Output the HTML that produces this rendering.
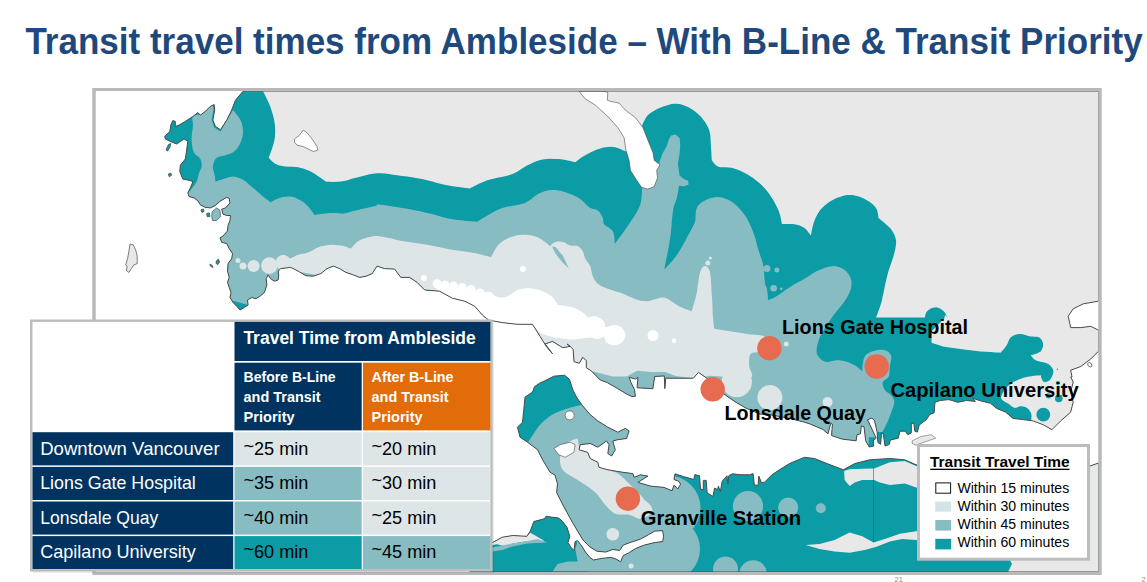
<!DOCTYPE html>
<html lang="en">
<head>
<meta charset="utf-8">
<title>Transit travel times from Ambleside – With B-Line &amp; Transit Priority</title>
<style>
  html, body { margin: 0; padding: 0; background: #ffffff; }
  body { width: 1147px; height: 582px; position: relative; overflow: hidden;
         font-family: "Liberation Sans", sans-serif; }
  svg text { font-family: "Liberation Sans", sans-serif; }
  .lbl { font-weight: bold; font-size: 20.5px; fill: #000; }
  .th1 { font-weight: bold; font-size: 17.9px; fill: #fff; }
  .th2 { font-weight: bold; font-size: 14.4px; fill: #fff; }
  .rowh { font-size: 17.8px; fill: #fff; }
  .cell { font-size: 17.8px; fill: #000; }
  .leg { font-size: 14.4px; fill: #000; }
</style>
</head>
<body>
<svg width="1147" height="582" viewBox="0 0 1147 582" style="position:absolute;left:0;top:0">
<defs>
<clipPath id="cns"><path d="M243.0,91.3 L235.5,100.1 L231.7,110.1 L226.7,120.1 L220.5,129.7 L215.4,126.4 L212.9,120.1 L214.7,110.1 L214.2,104.6 L210.4,106.3 L205.4,111.3 L200.4,115.1 L197.9,112.6 L192.9,116.4 L185.3,121.4 L179.1,125.1 L175.3,126.4 L175.3,121.4 L172.8,120.6 L170.8,125.1 L169.8,131.4 L164.8,136.4 L165.3,138.9 L170.3,141.4 L176.6,144.0 L184.1,138.9 L187.8,141.4 L186.6,150.2 L185.3,159.0 L180.3,165.3 L179.8,171.6 L182.8,179.1 L189.1,180.3 L192.9,181.6 L190.3,187.9 L187.8,192.9 L189.1,196.6 L194.1,197.9 L197.9,200.9 L200.4,204.9 L205.4,207.4 L210.4,207.9 L215.4,205.4 L220.5,200.9 L226.7,197.4 L229.2,198.4 L230.0,202.9 L225.5,207.9 L221.7,209.2 L223.0,214.2 L226.7,215.5 L230.5,215.5 L230.0,220.5 L228.0,225.5 L227.5,231.0 L223.0,236.0 L220.0,238.0 L221.7,242.3 L226.7,243.5 L229.2,248.6 L232.5,253.6 L231.7,258.6 L228.0,263.6 L227.5,271.1 L229.2,277.4 L227.5,282.4 L229.2,287.4 L231.0,292.5 L230.0,297.5 L233.0,302.5 L236.8,306.3 L240.0,310.0 L244.3,307.5 L248.1,305.0 L247.5,300.0 L251.8,297.5 L256.1,298.7 L260.6,295.7 L264.4,292.5 L266.9,284.9 L266.1,278.7 L268.1,274.9 L270.6,278.7 L274.4,281.2 L278.2,279.9 L278.7,274.9 L278.2,271.1 L280.7,268.6 L290.7,267.4 L298.2,271.1 L305.8,275.7 L313.3,276.2 L320.8,273.6 L327.1,268.6 L333.3,266.1 L339.6,268.6 L345.9,272.4 L353.4,274.9 L359.7,277.4 L366.0,276.2 L372.2,273.6 L377.0,266.1 L384.5,268.6 L394.6,269.1 L400.8,277.4 L409.6,277.4 L417.1,282.4 L424.7,290.0 L439.7,291.2 L452.3,298.2 L464.8,301.2 L474.8,306.3 L482.4,315.0 L488.6,320.1 L502.4,322.6 L517.5,324.3 L532.5,324.3 L540.1,336.4 L546.3,346.4 L552.6,353.9 L545.1,343.9 L552.6,341.4 L562.6,347.7 L570.2,346.4 L567.0,344.0 L570.5,346.7 L573.1,349.3 L574.0,361.6 L579.3,363.3 L582.8,357.2 L586.3,360.7 L586.3,367.7 L591.6,371.2 L600.3,380.0 L607.3,382.6 L617.8,388.7 L626.6,394.0 L631.9,396.6 L635.4,396.3 L634.5,389.6 L631.0,382.6 L629.2,377.3 L635.4,379.1 L638.0,377.3 L637.1,387.8 L652.9,388.7 L654.7,376.5 L664.3,375.9 L664.8,388.7 L665.7,378.2 L693.2,378.2 L698.5,372.4 L705.5,377.3 L723.9,394.0 L735.3,401.9 L745.8,408.0 L760.0,414.1 L769.4,414.6 L789.4,418.4 L804.5,422.2 L810.5,424.2 L822.8,429.4 L828.0,433.8 L830.7,423.3 L832.4,424.2 L831.6,435.6 L842.1,439.1 L856.1,440.8 L857.0,434.7 L860.5,433.8 L861.3,425.9 L864.0,426.8 L865.7,440.8 L869.2,447.0 L873.6,446.1 L873.6,440.0 L876.2,438.2 L870.1,425.1 L867.5,419.8 L871.9,418.0 L874.5,420.7 L877.1,432.1 L878.0,442.6 L880.6,444.3 L881.5,432.9 L883.3,433.8 L885.0,446.1 L889.4,444.3 L890.3,440.0 L898.2,438.2 L899.9,431.2 L905.2,431.2 L907.8,434.7 L911.3,432.9 L911.3,423.3 L913.9,423.3 L914.8,431.2 L917.4,432.1 L919.2,425.1 L926.2,419.8 L929.7,414.5 L934.1,412.8 L935.0,402.3 L940.2,400.5 L949.0,399.6 L957.8,402.3 L966.5,400.5 L975.3,401.4 L972.9,398.3 L980.4,400.8 L990.5,403.3 L996.7,408.4 L1005.5,412.1 L1013.0,418.4 L1023.1,419.6 L1033.1,420.9 L1043.1,424.7 L1051.9,429.7 L1060.7,420.9 L1070.7,412.1 L1073.2,402.1 L1070.7,392.1 L1073.2,382.0 L1070.7,377.0 L1072.0,377.0 L1070.7,370.2 L1080.8,366.5 L1090.8,358.9 L1098.3,351.4 L1098.5,351 L1098.5,330 L1098.3,330.1 L1090.8,326.3 L1080.8,327.6 L1070.7,327.6 L1068.2,316.3 L1073.2,308.8 L1083.3,303.8 L1098.3,301.2 L1098.5,301 L1098.5,91 L243,91Z"/></clipPath>
<clipPath id="cvan"><path d="M534.5,386.6 L540,383 L545.4,380.5 L553.8,376.2 L564.6,375.2 L569.4,379.3 L573,390.2 L577,398 L582.7,405.9 L590.2,414.6 L597.8,420.9 L607.8,427.2 L617.8,432.2 L625.4,428.4 L629.1,430.9 L626.6,438.5 L617.8,439.7 L612.8,441.0 L615.3,449.8 L611.6,456.0 L607.8,453.5 L609.1,444.7 L606.5,441.0 L597.8,447.2 L590.2,443.5 L580.2,444.7 L579.0,449.8 L587.7,452.3 L590.2,458.5 L597.8,462.3 L599.0,467.3 L607.8,469.8 L622.9,472.3 L632.9,473.6 L634.1,477.3 L640.4,474.8 L647.9,476.1 L637.9,482.4 L650.5,486.1 L664.0,487.4 L672.1,490.8 L674.0,485.1 L677.8,488.9 L680.6,484.2 L678.8,481.3 L674.0,479.5 L675.0,473.8 L683.5,476.6 L693.9,479.5 L694.8,474.7 L699.5,475.7 L700.5,488.9 L703.3,489.8 L703.3,480.4 L706.2,480.4 L707.1,492.7 L712.8,496.5 L714.7,488.0 L717.5,489.8 L718.4,486.1 L720.3,491.7 L722.2,481.3 L727.0,475.7 L727.9,484.2 L728.8,475.7 L732.6,473.8 L740.0,474.7 L749.3,474.8 L753.1,473.6 L754.3,484.9 L758.1,485.4 L758.8,476.1 L761.3,482.4 L764.3,482.4 L771.9,474.8 L779.4,469.8 L789.4,463.6 L804.5,457.3 L814.5,458.5 L827.1,463.6 L843.4,469.8 L854.7,463.6 L869.7,459.8 L889.8,458.5 L904.8,459.8 L916.1,464.8 L1000,464 L1090,466 L1098.5,463 L1098.5,572 L470,572 L472.5,545.1 L492.6,542.5 L502.3,537.2 L512.8,535.5 L526.8,536.3 L530.3,531.1 L533.8,521.5 L544.3,518.8 L546.1,516.2 L551.3,517.1 L558.4,517.9 L562.7,521.5 L567.1,527.6 L569.8,536.3 L568.0,542.5 L570.6,546.9 L574.1,550.4 L575.0,541.6 L577.6,540.7 L581.1,545.1 L585.5,552.1 L589.9,557.4 L593.4,560.0 L602.2,558.3 L610.9,557.4 L616.2,559.1 L620.6,561.8 L623.2,555.6 L628.5,553.0 L635.5,548.6 L644.3,545.1 L654.8,542.5 L662.7,541.6 L663.5,536.3 L662.7,530.7 L654.8,531.1 L648.6,534.6 L640.7,539.0 L630.2,542.5 L623.2,545.1 L619.7,550.4 L612.7,549.5 L605.7,552.1 L596.9,551.2 L589.9,546.9 L582.9,539.9 L577.6,531.1 L572.4,522.3 L567.1,512.7 L561.9,503.0 L556.6,492.5 L557.5,483.8 L554.9,475.0 L550.1,472.3 L542.6,459.8 L537.6,449.8 L527.5,442.2 L520.0,437.2 L517.5,427.2 L522.5,422.2 L523.8,409.6 L525.0,397.1 L532.5,392.1Z"/></clipPath>
<clipPath id="cframe"><rect x="95.5" y="91" width="1003" height="481"/></clipPath>
</defs>
<rect x="94" y="89.5" width="1006" height="484" fill="#ffffff" stroke="#b9b9b9" stroke-width="3"/>
<g clip-path="url(#cframe)">
<path d="M243.0,91.3 L235.5,100.1 L231.7,110.1 L226.7,120.1 L220.5,129.7 L215.4,126.4 L212.9,120.1 L214.7,110.1 L214.2,104.6 L210.4,106.3 L205.4,111.3 L200.4,115.1 L197.9,112.6 L192.9,116.4 L185.3,121.4 L179.1,125.1 L175.3,126.4 L175.3,121.4 L172.8,120.6 L170.8,125.1 L169.8,131.4 L164.8,136.4 L165.3,138.9 L170.3,141.4 L176.6,144.0 L184.1,138.9 L187.8,141.4 L186.6,150.2 L185.3,159.0 L180.3,165.3 L179.8,171.6 L182.8,179.1 L189.1,180.3 L192.9,181.6 L190.3,187.9 L187.8,192.9 L189.1,196.6 L194.1,197.9 L197.9,200.9 L200.4,204.9 L205.4,207.4 L210.4,207.9 L215.4,205.4 L220.5,200.9 L226.7,197.4 L229.2,198.4 L230.0,202.9 L225.5,207.9 L221.7,209.2 L223.0,214.2 L226.7,215.5 L230.5,215.5 L230.0,220.5 L228.0,225.5 L227.5,231.0 L223.0,236.0 L220.0,238.0 L221.7,242.3 L226.7,243.5 L229.2,248.6 L232.5,253.6 L231.7,258.6 L228.0,263.6 L227.5,271.1 L229.2,277.4 L227.5,282.4 L229.2,287.4 L231.0,292.5 L230.0,297.5 L233.0,302.5 L236.8,306.3 L240.0,310.0 L244.3,307.5 L248.1,305.0 L247.5,300.0 L251.8,297.5 L256.1,298.7 L260.6,295.7 L264.4,292.5 L266.9,284.9 L266.1,278.7 L268.1,274.9 L270.6,278.7 L274.4,281.2 L278.2,279.9 L278.7,274.9 L278.2,271.1 L280.7,268.6 L290.7,267.4 L298.2,271.1 L305.8,275.7 L313.3,276.2 L320.8,273.6 L327.1,268.6 L333.3,266.1 L339.6,268.6 L345.9,272.4 L353.4,274.9 L359.7,277.4 L366.0,276.2 L372.2,273.6 L377.0,266.1 L384.5,268.6 L394.6,269.1 L400.8,277.4 L409.6,277.4 L417.1,282.4 L424.7,290.0 L439.7,291.2 L452.3,298.2 L464.8,301.2 L474.8,306.3 L482.4,315.0 L488.6,320.1 L502.4,322.6 L517.5,324.3 L532.5,324.3 L540.1,336.4 L546.3,346.4 L552.6,353.9 L545.1,343.9 L552.6,341.4 L562.6,347.7 L570.2,346.4 L567.0,344.0 L570.5,346.7 L573.1,349.3 L574.0,361.6 L579.3,363.3 L582.8,357.2 L586.3,360.7 L586.3,367.7 L591.6,371.2 L600.3,380.0 L607.3,382.6 L617.8,388.7 L626.6,394.0 L631.9,396.6 L635.4,396.3 L634.5,389.6 L631.0,382.6 L629.2,377.3 L635.4,379.1 L638.0,377.3 L637.1,387.8 L652.9,388.7 L654.7,376.5 L664.3,375.9 L664.8,388.7 L665.7,378.2 L693.2,378.2 L698.5,372.4 L705.5,377.3 L723.9,394.0 L735.3,401.9 L745.8,408.0 L760.0,414.1 L769.4,414.6 L789.4,418.4 L804.5,422.2 L810.5,424.2 L822.8,429.4 L828.0,433.8 L830.7,423.3 L832.4,424.2 L831.6,435.6 L842.1,439.1 L856.1,440.8 L857.0,434.7 L860.5,433.8 L861.3,425.9 L864.0,426.8 L865.7,440.8 L869.2,447.0 L873.6,446.1 L873.6,440.0 L876.2,438.2 L870.1,425.1 L867.5,419.8 L871.9,418.0 L874.5,420.7 L877.1,432.1 L878.0,442.6 L880.6,444.3 L881.5,432.9 L883.3,433.8 L885.0,446.1 L889.4,444.3 L890.3,440.0 L898.2,438.2 L899.9,431.2 L905.2,431.2 L907.8,434.7 L911.3,432.9 L911.3,423.3 L913.9,423.3 L914.8,431.2 L917.4,432.1 L919.2,425.1 L926.2,419.8 L929.7,414.5 L934.1,412.8 L935.0,402.3 L940.2,400.5 L949.0,399.6 L957.8,402.3 L966.5,400.5 L975.3,401.4 L972.9,398.3 L980.4,400.8 L990.5,403.3 L996.7,408.4 L1005.5,412.1 L1013.0,418.4 L1023.1,419.6 L1033.1,420.9 L1043.1,424.7 L1051.9,429.7 L1060.7,420.9 L1070.7,412.1 L1073.2,402.1 L1070.7,392.1 L1073.2,382.0 L1070.7,377.0 L1072.0,377.0 L1070.7,370.2 L1080.8,366.5 L1090.8,358.9 L1098.3,351.4 L1098.5,351 L1098.5,330 L1098.3,330.1 L1090.8,326.3 L1080.8,327.6 L1070.7,327.6 L1068.2,316.3 L1073.2,308.8 L1083.3,303.8 L1098.3,301.2 L1098.5,301 L1098.5,91 L243,91Z" fill="#e8e8e8"/>
<g clip-path="url(#cns)">
<path d="M165.3,91.3 L263.1,91.3 L263.7,92.5 L265.2,95.4 L267.1,99.4 L269.1,103.7 L270.6,107.6 L271.7,111.0 L272.8,114.6 L273.7,118.1 L274.4,121.6 L274.9,125.1 L275.1,128.2 L275.2,131.2 L275.1,134.1 L274.9,137.1 L274.4,140.2 L273.4,144.2 L271.9,148.9 L270.4,153.2 L269.1,156.5 L268.6,157.8 L268.6,157.8 L269.1,158.3 L270.3,159.6 L272.0,161.2 L273.8,162.8 L275.6,164.0 L277.4,164.8 L279.4,165.4 L281.4,165.8 L283.6,166.2 L285.7,166.5 L288.1,166.7 L290.6,166.8 L293.1,166.8 L295.7,167.0 L298.2,167.3 L300.7,167.9 L303.2,168.6 L305.8,169.4 L308.3,170.4 L310.8,171.6 L314.3,173.6 L318.2,176.2 L321.9,178.8 L324.7,180.8 L325.8,181.6 L325.8,181.6 L326.9,181.7 L329.7,181.8 L333.4,181.9 L337.4,181.8 L340.9,181.6 L343.9,181.1 L346.8,180.4 L349.7,179.5 L352.7,178.6 L355.9,177.8 L359.9,176.8 L364.1,175.7 L368.4,174.6 L372.7,173.8 L377.0,173.3 L381.0,173.3 L385.0,173.6 L388.9,174.1 L392.9,174.7 L397.1,175.3 L402.0,175.9 L407.0,176.6 L412.0,177.3 L417.2,178.2 L422.2,179.1 L427.2,180.2 L432.3,181.6 L437.3,182.9 L442.3,184.2 L447.2,185.3 L452.5,186.2 L458.5,187.0 L464.0,187.7 L468.2,188.2 L469.8,188.4 L469.8,188.4 L471.0,187.8 L474.1,186.2 L478.4,184.1 L483.1,182.0 L487.4,180.3 L492.2,178.9 L497.4,177.8 L502.8,176.8 L507.9,175.6 L512.5,174.1 L515.8,172.5 L518.8,170.7 L521.7,168.8 L524.5,166.9 L527.5,165.3 L530.4,163.9 L533.4,162.5 L536.3,161.3 L539.4,160.3 L542.6,159.5 L546.5,159.0 L550.6,158.8 L554.8,158.9 L558.9,159.1 L562.6,159.5 L565.7,160.0 L569.1,160.7 L572.1,161.5 L574.3,162.1 L575.2,162.3 L575.2,162.3 L575.9,161.8 L577.6,160.4 L580.0,158.6 L582.6,156.8 L585.2,155.2 L588.4,153.5 L591.9,151.7 L595.7,150.1 L599.3,148.7 L602.8,147.7 L605.4,147.2 L608.0,146.9 L610.5,146.8 L612.9,146.9 L615.3,147.2 L617.7,147.9 L620.4,149.0 L622.9,150.2 L624.7,151.1 L625.4,151.5 L641.7,126.4 L642.0,125.5 L643.0,123.3 L644.4,120.4 L646.0,117.5 L647.9,115.1 L650.5,112.9 L653.7,110.9 L657.2,109.1 L660.7,107.6 L664.0,106.3 L666.6,105.4 L669.1,104.7 L671.5,104.1 L674.0,103.8 L676.5,103.8 L679.0,104.1 L681.6,104.6 L684.2,105.4 L686.7,106.4 L689.1,107.6 L691.8,109.2 L694.4,111.0 L697.0,113.1 L699.4,115.3 L701.6,117.6 L703.5,119.9 L705.2,122.3 L706.8,124.9 L708.1,127.5 L709.2,130.2 L709.9,133.1 L710.4,136.0 L710.6,139.1 L710.7,142.2 L710.9,145.2 L711.1,148.7 L711.4,152.7 L711.5,156.4 L711.7,159.2 L711.7,160.3 L711.7,160.3 L712.1,160.8 L713.1,162.1 L714.5,163.8 L716.2,165.4 L717.9,166.5 L720.2,167.2 L722.9,167.3 L725.9,167.3 L728.8,167.4 L731.7,167.8 L734.7,168.7 L737.8,169.8 L740.8,171.0 L743.8,172.5 L746.8,174.1 L749.9,176.0 L753.1,178.1 L756.2,180.4 L759.1,182.8 L761.8,185.3 L764.1,187.7 L766.2,190.1 L768.2,192.6 L770.1,195.2 L771.9,197.9 L773.7,200.8 L775.3,203.8 L776.9,206.9 L778.3,210.0 L779.4,212.9 L780.2,215.6 L780.9,218.6 L781.4,221.3 L781.8,223.4 L781.9,224.2 L781.9,224.2 L782.9,224.1 L785.2,224.0 L788.4,223.9 L791.7,223.9 L794.5,224.2 L796.7,224.7 L798.8,225.3 L800.8,226.0 L802.7,226.9 L804.5,228.0 L806.2,229.5 L807.8,231.4 L809.3,233.4 L810.4,234.9 L810.8,235.5 L810.8,235.5 L811.0,234.4 L811.6,231.5 L812.4,227.8 L813.4,223.8 L814.5,220.5 L815.7,217.8 L817.0,215.1 L818.5,212.6 L820.2,210.1 L822.1,207.9 L824.3,205.8 L826.6,203.9 L829.2,202.1 L831.9,200.5 L834.6,199.1 L837.4,197.8 L840.4,196.7 L843.5,195.8 L846.6,195.1 L849.6,194.9 L852.7,195.1 L855.8,195.7 L858.9,196.6 L861.9,197.8 L864.7,199.1 L867.3,200.5 L869.9,202.1 L872.3,203.9 L874.4,205.9 L876.0,207.9 L877.0,210.1 L877.7,212.7 L878.2,215.3 L878.4,217.2 L878.5,218.0 L878.5,218.0 L879.2,218.6 L880.9,220.0 L883.1,221.8 L885.4,223.8 L887.3,225.5 L888.4,226.6 L889.5,227.6 L890.5,228.6 L891.4,229.7 L892.3,231.0 L893.3,232.7 L894.3,234.6 L895.1,236.7 L895.7,238.8 L896.1,241.0 L896.1,243.8 L895.7,246.8 L895.1,249.9 L894.3,253.0 L893.5,256.1 L892.6,259.1 L891.6,262.1 L890.5,265.1 L889.5,268.1 L888.5,271.1 L887.7,274.1 L886.9,277.1 L886.2,280.1 L885.5,283.1 L884.8,286.2 L884.1,289.7 L883.4,293.3 L882.6,296.9 L881.9,300.4 L881.0,303.8 L879.9,307.1 L878.6,310.8 L877.4,314.1 L876.4,316.6 L876.0,317.6 L924.9,317.6 L924.9,317.2 L925.1,316.2 L925.3,314.9 L925.7,313.6 L926.2,312.5 L926.9,311.5 L927.9,310.5 L928.9,309.7 L930.1,308.9 L931.2,308.3 L932.4,307.9 L933.6,307.5 L934.9,307.4 L936.2,307.3 L937.5,307.5 L938.8,307.9 L940.1,308.6 L941.4,309.4 L942.6,310.3 L943.7,311.3 L944.7,312.6 L945.8,314.2 L946.6,315.9 L947.3,317.1 L947.5,317.6 L945.3,315.0 L944.0,318.8 L931.5,331.3 L931.5,342.6 L931.5,342.6 L932.3,342.9 L934.3,343.7 L937.0,344.6 L940.0,345.6 L942.8,346.4 L946.0,347.1 L949.4,347.6 L953.0,348.0 L956.7,348.4 L960.3,348.9 L964.2,349.4 L968.2,350.0 L972.3,350.5 L976.4,351.0 L980.4,351.4 L985.1,351.8 L990.4,352.1 L995.3,352.4 L999.0,352.6 L1000.5,352.7 L1000.5,352.7 L1001.0,352.2 L1002.2,350.8 L1003.9,348.9 L1005.5,346.9 L1006.8,345.1 L1007.6,343.6 L1008.2,341.9 L1008.8,340.3 L1009.5,338.9 L1010.5,337.6 L1011.9,336.5 L1013.6,335.5 L1015.4,334.8 L1017.4,334.2 L1019.3,333.9 L1021.5,334.0 L1023.8,334.5 L1026.1,335.2 L1028.4,335.9 L1030.6,336.4 L1032.5,336.6 L1034.4,336.7 L1036.3,336.7 L1038.0,337.0 L1039.4,337.6 L1040.5,338.5 L1041.5,339.7 L1042.2,341.1 L1042.8,342.5 L1043.1,343.9 L1043.1,345.4 L1042.8,347.0 L1042.3,348.6 L1041.6,350.1 L1040.6,351.4 L1038.8,352.6 L1036.2,353.7 L1033.5,354.5 L1031.5,355.0 L1030.6,355.2 L1030.6,355.2 L1030.9,355.6 L1031.7,356.6 L1032.9,357.9 L1034.2,359.2 L1035.6,360.2 L1037.8,361.1 L1040.5,361.7 L1043.3,362.3 L1046.0,363.0 L1048.2,364.0 L1049.6,365.1 L1050.8,366.3 L1051.9,367.6 L1052.7,368.9 L1053.2,370.2 L1053.4,371.1 L1053.4,371.9 L1053.3,372.7 L1053.1,373.5 L1052.8,374.4 L1052.4,375.6 L1051.8,377.0 L1051.0,378.3 L1050.2,379.5 L1049.3,380.4 L1048.4,381.0 L1047.3,381.6 L1046.2,382.0 L1045.1,382.2 L1044.2,382.1 L1043.5,381.7 L1042.9,381.1 L1042.4,380.3 L1042.0,379.5 L1041.6,378.7 L1041.3,377.9 L1041.1,377.0 L1040.9,376.1 L1040.8,375.5 L1040.8,375.2 L1040.8,375.2 L1040.2,375.3 L1038.6,375.4 L1036.5,375.6 L1034.2,375.8 L1032.2,376.1 L1030.5,376.4 L1028.7,376.6 L1027.0,377.0 L1025.3,377.3 L1023.6,377.8 L1021.8,378.4 L1020.0,379.0 L1018.2,379.7 L1016.6,380.4 L1015.0,381.2 L1013.8,381.8 L1012.8,382.5 L1011.8,383.2 L1010.8,383.9 L1009.8,384.7 L1008.7,385.6 L1007.6,386.5 L1006.6,387.5 L1005.6,388.6 L1004.7,389.8 L1003.7,391.4 L1002.6,393.2 L1001.7,395.1 L1001.2,396.8 L1001.2,398.4 L1001.9,399.6 L1003.2,400.7 L1004.8,401.7 L1006.5,402.7 L1008.1,403.6 L1009.5,404.6 L1010.9,405.7 L1012.3,406.7 L1013.7,407.5 L1015.0,407.9 L1016.0,407.8 L1017.0,407.4 L1018.0,406.9 L1019.0,406.4 L1020.1,406.2 L1021.5,406.2 L1022.9,406.4 L1024.4,406.7 L1025.8,407.2 L1027.0,407.9 L1028.1,408.8 L1029.1,409.9 L1030.0,411.2 L1030.8,412.5 L1031.3,413.9 L1031.5,415.8 L1031.4,418.0 L1031.2,420.2 L1030.9,421.8 L1030.8,422.5 L1011.5,450.0 L908.5,450.0 L150,480 L150,91Z" fill="#0b9ca5"/>
<circle cx="1043.3" cy="414.7" r="6.9" fill="#0b9ca5"/><circle cx="1058.8" cy="398.4" r="3.8" fill="#0b9ca5"/><circle cx="1048.5" cy="395.8" r="2.6" fill="#0b9ca5"/><circle cx="1057.9" cy="383.0" r="2.1" fill="#0b9ca5"/><circle cx="1057.4" cy="369.2" r="0.7" fill="#0b9ca5"/>
<path d="M200.4,114.6 L199.7,114.6 L198.1,114.8 L196.1,115.1 L194.2,115.6 L192.9,116.4 L192.4,117.7 L192.3,119.3 L192.6,121.1 L192.8,123.1 L192.9,125.1 L192.7,127.9 L192.3,130.9 L191.9,134.1 L191.6,137.2 L191.6,140.2 L191.8,142.9 L192.1,145.6 L192.5,148.2 L193.2,150.6 L194.1,152.7 L195.2,154.2 L196.6,155.4 L198.1,156.5 L199.4,157.7 L200.4,159.0 L201.0,160.4 L201.4,161.9 L201.6,163.5 L201.7,165.0 L201.6,166.5 L201.3,167.8 L200.8,169.0 L200.2,170.2 L199.6,171.5 L199.1,172.8 L198.6,174.5 L198.2,176.2 L197.8,178.1 L197.3,179.9 L196.6,181.6 L195.6,183.5 L194.3,185.3 L193.0,187.1 L191.6,188.8 L190.3,190.4 L189.1,191.7 L187.8,193.0 L186.6,194.2 L185.7,195.1 L185.3,195.4 L190.3,298.7 L233.0,300.7 L248.1,305.0 L265.6,306.3 L378,306 L378.0,205.4 L378.0,205.4 L376.3,205.8 L372.0,206.7 L366.4,208.0 L360.6,209.3 L355.9,210.4 L353.2,211.1 L350.7,211.8 L348.2,212.5 L345.9,213.0 L343.4,213.4 L340.9,213.5 L338.5,213.3 L336.0,213.1 L333.4,212.9 L330.8,212.9 L327.2,213.2 L322.9,213.7 L318.8,214.3 L315.7,214.8 L314.5,215.0 L314.5,215.0 L314.1,214.4 L313.0,212.8 L311.5,210.7 L309.8,208.5 L308.3,206.7 L306.9,205.3 L305.5,203.9 L304.0,202.6 L302.4,201.5 L300.7,200.4 L298.9,199.4 L296.9,198.4 L294.9,197.6 L292.8,197.0 L290.7,196.6 L288.3,196.5 L285.6,196.7 L283.0,197.1 L280.5,197.7 L278.2,198.4 L276.3,199.2 L274.3,200.2 L272.4,201.3 L271.1,202.1 L270.6,202.4 L270.6,202.4 L270.1,202.0 L268.7,201.0 L266.9,199.6 L264.9,198.0 L263.1,196.6 L261.2,195.0 L259.2,193.2 L257.2,191.4 L255.1,189.6 L253.1,187.9 L251.1,186.2 L249.1,184.4 L247.1,182.7 L245.1,181.1 L243.0,179.8 L241.1,178.8 L239.1,178.0 L237.0,177.3 L235.0,176.8 L233.0,176.6 L231.0,176.7 L228.9,177.2 L226.9,177.8 L224.9,178.5 L223.0,179.1 L221.2,179.7 L219.2,180.3 L217.3,180.9 L215.9,181.4 L215.4,181.6 L215.4,181.6 L215.4,181.2 L215.3,180.0 L215.1,178.5 L214.9,176.8 L214.7,175.3 L214.3,173.6 L213.8,171.9 L213.3,170.1 L212.9,168.3 L212.9,166.5 L213.2,164.6 L213.8,162.7 L214.5,160.8 L215.5,159.1 L216.7,157.8 L218.1,156.9 L219.9,156.4 L221.8,156.0 L223.7,155.7 L225.5,155.2 L227.3,154.6 L229.2,154.0 L231.0,153.4 L232.7,152.5 L234.3,151.5 L235.8,150.1 L237.2,148.4 L238.4,146.6 L239.5,144.7 L240.5,142.7 L241.3,140.6 L242.0,138.3 L242.6,136.0 L242.9,133.7 L243.0,131.4 L242.9,129.1 L242.6,126.8 L242.1,124.5 L241.4,122.3 L240.5,120.1 L239.1,117.7 L237.1,115.0 L235.2,112.6 L233.6,110.8 L233.0,110.1 L225.5,122.6 L220.5,131.4 L214.2,127.6 L211.7,120.1 L213.4,110.1 L212.9,103.8Z" fill="#87bcc3"/>
<path d="M377.0,204.2 L378.8,204.4 L383.5,205.1 L389.7,206.0 L396.3,207.0 L402.1,207.9 L407.1,208.8 L412.2,209.7 L417.2,210.7 L422.2,211.8 L427.2,212.9 L432.2,214.1 L437.2,215.5 L442.2,216.9 L447.3,218.2 L452.3,219.2 L458.1,220.0 L464.7,220.7 L470.9,221.2 L475.5,221.6 L477.3,221.7 L477.3,221.7 L478.0,221.2 L479.8,220.1 L482.2,218.6 L484.9,216.9 L487.4,215.5 L490.1,213.9 L493.0,212.3 L496.0,210.7 L499.1,209.2 L502.4,207.9 L506.7,206.7 L511.3,205.9 L516.1,205.2 L520.8,204.3 L525.0,202.9 L528.3,201.1 L531.4,198.9 L534.3,196.6 L537.2,194.5 L540.1,192.9 L542.6,191.9 L545.1,191.1 L547.5,190.5 L550.0,190.1 L552.6,189.9 L555.6,190.0 L558.6,190.5 L561.7,191.1 L564.8,192.0 L567.7,192.9 L570.4,193.9 L572.9,195.0 L575.5,196.3 L577.9,197.6 L580.2,199.1 L582.3,200.8 L584.4,202.7 L586.3,204.7 L588.2,206.5 L590.2,207.9 L591.8,208.6 L593.4,209.0 L595.0,209.3 L596.5,209.7 L597.8,210.4 L599.1,211.6 L600.2,213.1 L601.2,214.7 L602.1,216.4 L602.8,218.0 L603.1,219.3 L603.3,220.5 L603.3,221.8 L603.5,223.0 L604.0,224.2 L605.3,225.6 L607.3,226.8 L609.4,228.0 L611.3,229.4 L612.8,231.0 L613.7,233.6 L614.3,237.0 L614.6,240.3 L614.7,242.9 L614.7,243.9 L614.7,243.9 L615.7,242.6 L618.3,239.1 L621.8,234.5 L625.3,229.6 L628.4,225.1 L631.1,221.1 L633.8,217.0 L636.4,212.8 L638.6,208.7 L640.3,204.6 L641.2,200.6 L641.7,196.1 L641.9,191.9 L642.0,188.7 L642.0,187.5 L659.1,163.6 L662.5,153.4 L666.6,146.5 L668.7,139.7 L671.1,135.6 L675.5,134.6 L679.6,138.0 L680.3,144.8 L679.6,153.4 L677.9,163.6 L679.6,175.6 L683.7,179.0 L688.2,180.7 L688.5,184.8 L683.7,186.2 L678.9,185.8 L678.9,185.8 L678.8,186.7 L678.5,188.9 L678.0,191.9 L677.5,195.1 L676.9,197.8 L676.3,199.8 L675.6,201.7 L674.9,203.5 L674.1,205.6 L673.5,208.0 L672.7,213.1 L672.0,219.1 L671.5,225.7 L670.9,232.4 L670.1,238.8 L668.9,246.0 L667.4,254.1 L665.8,261.7 L664.7,267.4 L664.2,269.6 L664.2,269.6 L665.1,268.7 L667.3,266.3 L670.3,263.1 L673.5,259.4 L676.2,255.9 L679.1,251.5 L682.1,246.4 L685.0,241.2 L687.6,236.3 L689.9,232.0 L691.2,229.7 L692.3,227.7 L693.3,225.8 L694.2,223.8 L695.0,221.7 L695.5,219.0 L695.6,216.1 L695.7,213.2 L696.0,210.4 L696.7,208.0 L697.7,206.3 L698.9,204.8 L700.3,203.5 L701.8,202.3 L703.5,201.2 L705.9,200.0 L708.6,198.8 L711.4,197.9 L714.4,197.3 L717.2,197.1 L720.0,197.3 L722.8,197.8 L725.5,198.7 L728.3,199.8 L730.9,201.2 L733.9,203.3 L736.8,205.8 L739.6,208.7 L742.2,211.8 L744.6,214.9 L746.7,218.1 L748.5,221.5 L750.2,224.9 L751.7,228.5 L753.1,232.0 L754.3,235.4 L755.4,238.8 L756.3,242.2 L757.2,245.7 L758.2,249.1 L759.3,252.5 L760.4,255.9 L761.6,259.2 L762.6,262.7 L763.4,266.1 L763.9,269.8 L764.2,273.7 L764.4,277.6 L764.7,281.1 L765.1,283.9 L765.4,285.0 L765.8,285.9 L766.2,286.8 L766.6,287.6 L766.9,288.7 L767.3,291.0 L767.6,293.9 L767.9,296.9 L768.0,299.1 L768.1,300.0 L768.1,300.0 L768.5,299.9 L769.6,299.5 L771.1,298.9 L772.8,298.3 L774.4,297.5 L777.0,295.9 L780.0,293.9 L783.1,291.7 L786.3,289.5 L789.4,287.4 L792.4,285.6 L795.4,283.8 L798.4,282.1 L801.5,280.4 L804.5,278.7 L807.5,276.9 L810.5,275.0 L813.4,273.1 L816.4,271.3 L819.5,269.9 L822.5,268.7 L825.6,267.6 L828.8,266.7 L831.8,266.2 L834.6,266.1 L836.8,266.4 L838.9,266.9 L841.0,267.7 L842.9,268.7 L844.6,269.9 L846.2,271.3 L847.7,273.0 L849.0,274.8 L850.1,276.8 L850.9,278.7 L851.4,280.6 L851.6,282.6 L851.5,284.6 L851.3,286.6 L850.9,288.7 L850.1,291.2 L849.0,293.7 L847.7,296.2 L846.2,298.7 L844.6,301.2 L842.8,303.7 L840.8,306.2 L838.7,308.7 L836.6,311.2 L834.6,313.8 L832.5,316.7 L830.4,319.7 L828.4,322.8 L826.4,325.8 L824.6,328.8 L823.1,331.3 L821.7,333.9 L820.3,336.3 L819.2,338.8 L818.3,341.4 L817.6,343.9 L817.0,346.6 L816.6,349.2 L816.6,351.7 L817.0,353.9 L817.9,355.8 L819.2,357.6 L820.8,359.2 L822.6,360.6 L824.6,361.5 L827.2,361.9 L830.1,361.5 L833.3,360.8 L836.5,360.2 L839.6,360.2 L842.7,360.7 L846.0,361.6 L849.1,362.6 L852.1,363.9 L854.7,365.2 L856.7,366.5 L858.7,368.2 L860.5,369.8 L861.7,371.0 L862.2,371.5 L862.2,371.5 L862.3,370.2 L862.4,367.2 L862.9,363.2 L863.6,359.3 L864.7,356.4 L865.8,355.0 L867.2,353.8 L868.8,352.9 L870.4,352.1 L872.2,351.4 L874.5,350.7 L877.2,350.1 L880.0,349.8 L882.6,349.8 L884.8,350.2 L886.4,350.8 L887.8,351.6 L889.2,352.7 L890.2,353.9 L891.0,355.2 L891.4,357.1 L891.2,359.3 L890.7,361.7 L890.2,364.2 L889.8,366.5 L889.6,368.7 L889.6,371.0 L889.5,373.2 L889.1,375.2 L888.5,377.0 L887.5,378.2 L886.2,379.1 L884.7,380.0 L883.5,380.9 L882.8,382.0 L882.6,383.5 L882.8,385.1 L883.3,386.9 L884.0,388.5 L884.8,390.0 L885.8,391.2 L887.1,392.2 L888.5,393.1 L889.9,394.0 L891.0,395.1 L891.9,396.2 L892.7,397.3 L893.4,398.5 L894.0,399.7 L894.3,401.1 L894.2,403.2 L893.7,405.5 L892.8,408.0 L891.9,410.5 L891.0,412.9 L890.1,415.4 L889.1,417.9 L888.1,420.4 L887.1,422.8 L886.0,425.2 L885.0,427.3 L883.9,429.3 L882.8,431.3 L881.7,433.4 L880.8,435.7 L879.8,439.3 L878.8,443.6 L878.0,447.8 L877.4,451.0 L877.2,452.3 L563.7,452.3 L351.9,381.5 L351.9,331.3Z" fill="#87bcc3"/>
<circle cx="776.9" cy="269.9" r="2.5" fill="#87bcc3"/><circle cx="766.9" cy="268.6" r="3.5" fill="#87bcc3"/><circle cx="773.6" cy="288.2" r="3.3" fill="#87bcc3"/><circle cx="781.2" cy="288.7" r="1.3" fill="#87bcc3"/>
<path d="M280.7,268.6 L280.3,268.1 L279.3,267.0 L278.2,265.5 L277.2,263.9 L276.9,262.4 L277.4,260.7 L278.6,258.7 L280.1,256.9 L281.8,255.4 L283.2,254.8 L284.2,255.1 L285.1,256.0 L286.0,257.1 L287.1,258.1 L288.2,258.6 L289.9,258.5 L291.9,257.7 L294.0,256.7 L296.1,255.6 L298.2,254.8 L300.2,254.3 L302.2,253.8 L304.3,253.4 L306.3,252.9 L308.3,252.3 L310.3,251.4 L312.3,250.4 L314.2,249.2 L316.2,248.2 L318.3,247.3 L320.7,246.6 L323.2,245.9 L325.7,245.4 L328.3,245.0 L330.8,244.8 L333.4,244.8 L336.0,244.9 L338.6,245.2 L341.1,245.6 L343.4,246.1 L345.3,246.6 L347.3,247.2 L349.1,247.9 L350.4,248.4 L350.9,248.6 L350.9,248.6 L351.4,248.0 L352.7,246.5 L354.5,244.5 L356.5,242.5 L358.4,241.0 L360.3,240.0 L362.3,239.1 L364.4,238.4 L366.5,237.8 L368.5,237.3 L370.2,236.9 L371.7,236.5 L373.3,236.2 L375.0,236.0 L377.0,236.0 L381.2,236.4 L386.1,237.4 L391.4,238.6 L396.9,239.9 L402.1,241.0 L407.1,241.8 L412.1,242.5 L417.2,243.3 L422.2,244.0 L427.2,244.8 L432.2,245.7 L437.2,246.8 L442.3,247.8 L447.3,248.9 L452.3,249.8 L457.4,250.6 L462.7,251.3 L467.8,252.0 L472.8,252.8 L477.3,253.6 L480.8,254.4 L484.4,255.4 L487.8,256.3 L490.2,257.0 L491.1,257.3 L491.1,257.3 L491.5,256.4 L492.5,254.2 L494.0,251.4 L495.7,248.5 L497.4,246.1 L499.1,244.3 L501.0,242.6 L503.0,241.1 L505.2,239.7 L507.5,238.5 L510.2,237.3 L513.2,236.4 L516.3,235.6 L519.4,235.1 L522.5,234.8 L525.6,234.8 L528.7,235.1 L531.7,235.5 L534.7,236.3 L537.6,237.3 L540.7,238.9 L544.0,241.2 L547.0,243.5 L549.2,245.4 L550.1,246.1 L550.1,246.1 L550.3,245.9 L550.7,245.4 L551.3,244.7 L551.9,244.0 L552.6,243.5 L553.5,243.0 L554.4,242.5 L555.4,242.0 L556.5,241.7 L557.6,241.5 L558.8,241.4 L560.1,241.5 L561.4,241.7 L562.6,241.9 L563.9,242.3 L565.2,242.8 L566.4,243.6 L567.6,244.4 L568.9,245.1 L570.2,245.6 L571.7,245.8 L573.2,245.8 L574.8,245.7 L576.3,245.7 L577.7,246.1 L578.9,246.8 L580.0,247.7 L581.0,248.7 L581.9,249.9 L582.7,251.1 L583.3,252.5 L583.8,254.0 L584.2,255.5 L584.6,257.1 L585.2,258.6 L586.1,260.1 L587.1,261.6 L588.3,263.0 L589.3,264.5 L590.2,266.1 L590.9,268.0 L591.3,270.1 L591.7,272.2 L592.1,274.3 L592.8,276.2 L593.6,277.9 L594.4,279.5 L595.4,281.0 L596.5,282.4 L597.8,283.7 L599.5,284.9 L601.3,286.0 L603.4,286.9 L605.6,287.8 L607.8,288.7 L610.6,289.7 L613.6,290.7 L616.7,291.7 L619.8,292.6 L622.9,293.7 L626.0,295.0 L629.0,296.4 L632.1,297.8 L635.1,299.1 L637.9,300.0 L640.0,300.5 L641.9,300.9 L643.8,301.1 L645.8,301.2 L647.9,301.2 L650.9,300.6 L654.1,299.6 L657.5,298.4 L660.8,297.6 L664.0,297.5 L667.1,298.5 L670.2,300.3 L673.2,302.4 L676.2,304.5 L679.1,306.3 L682.0,307.6 L685.3,309.0 L688.4,310.1 L690.7,311.0 L691.6,311.3 L691.6,311.3 L692.0,310.1 L693.0,306.9 L694.2,302.6 L695.5,297.9 L696.6,293.7 L697.4,289.1 L698.0,284.1 L698.7,279.1 L699.4,274.6 L700.4,271.1 L701.0,269.7 L701.7,268.4 L702.5,267.3 L703.3,266.5 L704.1,266.1 L705.0,266.1 L706.0,266.3 L707.0,266.9 L707.9,267.6 L708.7,268.6 L710.0,271.9 L710.7,276.8 L711.1,282.5 L711.4,288.3 L711.7,293.7 L712.0,298.4 L712.3,303.1 L712.5,307.8 L712.6,312.2 L712.9,316.3 L713.2,319.4 L713.5,322.8 L713.8,325.8 L714.1,327.9 L714.2,328.8 L714.2,328.8 L716.7,329.2 L723.1,330.2 L731.4,331.5 L739.9,332.8 L746.8,333.9 L750.8,334.4 L754.7,334.7 L758.4,335.0 L761.6,335.5 L764.3,336.4 L765.8,337.2 L767.2,338.1 L768.3,339.1 L769.1,340.2 L769.4,341.4 L768.7,343.3 L766.9,345.5 L764.4,347.8 L761.7,349.8 L759.3,351.4 L757.5,352.1 L755.5,352.4 L753.6,352.6 L751.9,353.0 L750.6,353.9 L749.6,355.8 L749.2,358.2 L749.1,361.1 L749.1,363.9 L749.3,366.5 L749.8,368.8 L750.8,371.1 L751.8,373.3 L752.3,375.4 L751.8,377.0 L745.6,378.5 L734.2,377.9 L721.1,376.6 L709.9,375.8 L704.1,377.0 L703.7,378.2 L704.0,379.7 L704.7,381.4 L705.7,383.0 L706.6,384.5 L707.7,386.1 L709.1,387.8 L710.7,389.3 L712.4,390.8 L714.2,392.1 L716.8,393.5 L720.1,394.8 L723.3,396.0 L725.7,396.8 L726.7,397.1 L563.7,452.3 L351.9,381.5 L351.9,281.2Z" fill="#dde5e7"/>
<circle cx="238.0" cy="260.4" r="2.5" fill="#dde5e7"/><circle cx="243.0" cy="266.1" r="3.5" fill="#dde5e7"/><circle cx="253.6" cy="266.1" r="6.0" fill="#dde5e7"/><circle cx="269.4" cy="265.6" r="8.3" fill="#dde5e7"/><circle cx="283.2" cy="262.4" r="7.5" fill="#dde5e7"/><circle cx="707.9" cy="263.1" r="2.5" fill="#dde5e7"/><circle cx="710.4" cy="258.1" r="1.5" fill="#dde5e7"/><circle cx="786.2" cy="343.9" r="2.5" fill="#dde5e7"/><circle cx="736.8" cy="382.0" r="15.1" fill="#dde5e7"/><circle cx="769.9" cy="397.6" r="12.5" fill="#dde5e7"/><circle cx="827.6" cy="402.1" r="5.0" fill="#dde5e7"/>
<path d="M552.1,246.6 L555.6,247.1 L563.1,256.1 L568.9,268.6 L562.1,262.1 L555.1,253.1Z" fill="#87bcc3"/>
<path d="M439.7,292.5 L432.7,283.7 L489.9,293.2 L490.6,293.6 L492.5,294.6 L495.0,295.8 L497.7,296.9 L499.9,297.5 L501.5,297.6 L503.0,297.5 L504.5,297.2 L506.0,296.7 L507.5,296.2 L509.4,295.2 L511.4,293.9 L513.3,292.4 L515.4,291.0 L517.5,290.0 L519.9,289.3 L522.3,288.7 L524.9,288.4 L527.5,288.2 L530.0,288.2 L532.6,288.4 L535.1,288.9 L537.7,289.5 L540.2,290.3 L542.6,291.2 L544.8,292.2 L547.0,293.4 L549.0,294.6 L550.9,296.0 L552.6,297.5 L554.0,299.1 L555.3,301.1 L556.5,303.0 L557.3,304.4 L557.6,305.0 L557.6,305.0 L558.8,305.1 L561.7,305.5 L565.5,306.0 L569.4,306.7 L572.7,307.5 L574.9,308.3 L577.1,309.2 L579.1,310.3 L581.0,311.4 L582.7,312.5 L584.0,313.6 L585.4,315.0 L586.5,316.2 L587.4,317.2 L587.7,317.6 L587.7,317.6 L588.3,317.4 L589.7,317.0 L591.6,316.6 L593.6,316.3 L595.3,316.3 L596.9,316.7 L598.5,317.3 L600.1,318.0 L601.6,319.0 L602.8,320.1 L603.8,321.6 L604.6,323.5 L605.2,325.5 L605.6,327.0 L605.8,327.6 L605.8,327.6 L606.4,327.3 L608.0,326.7 L610.0,326.0 L612.2,325.3 L614.1,325.1 L615.7,325.2 L617.3,325.5 L618.9,326.0 L620.3,326.7 L621.6,327.6 L622.7,328.8 L623.8,330.2 L624.6,331.9 L625.2,333.5 L625.4,335.1 L625.2,336.7 L624.6,338.3 L623.8,340.0 L622.7,341.4 L621.6,342.6 L620.3,343.5 L618.9,344.2 L617.3,344.7 L615.7,345.0 L614.1,345.1 L612.5,345.0 L610.8,344.7 L609.2,344.2 L607.7,343.5 L606.5,342.6 L605.6,341.4 L605.0,339.8 L604.4,338.2 L604.1,336.9 L604.0,336.4 L604.0,336.4 L603.6,336.6 L602.4,337.2 L600.9,337.9 L599.3,338.5 L597.8,338.9 L596.4,338.9 L595.0,338.6 L593.5,338.2 L591.9,337.8 L590.2,337.6 L587.2,337.7 L583.8,338.2 L580.1,338.7 L576.4,339.2 L572.7,339.4 L568.7,339.2 L564.5,338.9 L560.3,338.3 L556.3,337.7 L552.6,336.9 L549.8,336.2 L547.0,335.5 L544.5,334.6 L542.1,333.7 L540.1,332.6 L538.7,331.5 L537.4,330.2 L536.2,329.0 L535.4,328.0 L535.1,327.6 L527.5,336.4 L482.4,327.6 L452.3,307.5 L434.7,295.0Z" fill="#ffffff"/>
<circle cx="423.9" cy="277.9" r="3.0" fill="#ffffff"/><circle cx="522.8" cy="269.1" r="3.0" fill="#ffffff"/><circle cx="653.0" cy="335.6" r="5.5" fill="#ffffff"/><circle cx="674.0" cy="340.6" r="2.3" fill="#ffffff"/>
<circle cx="437.2" cy="283.7" r="4.5" fill="#ffffff"/><circle cx="445.2" cy="284.7" r="4.3" fill="#ffffff"/><circle cx="453.5" cy="285.9" r="4.3" fill="#ffffff"/><circle cx="462.3" cy="287.2" r="4.3" fill="#ffffff"/><circle cx="471.1" cy="289.5" r="4.5" fill="#ffffff"/><circle cx="479.9" cy="293.2" r="4.8" fill="#ffffff"/><circle cx="488.6" cy="296.7" r="5.0" fill="#ffffff"/>
<path d="M591.6,371.2 L595.1,372.1 L612.6,376.5 L626.6,376.5 L637.1,370.7 L651.1,372.1 L665.2,372.1 L675.7,375.9 L693.2,378.2 L693.2,400.1 L591.6,400.1Z" fill="#87bcc3"/>
<path d="M831.6,436.3 L842.1,439.6 L856.4,441.4 L856.4,447.8 L831.6,447.8Z" fill="#0b9ca5"/>
<path d="M868.7,437.3 L874.5,437.3 L874.5,447.8 L868.7,447.8Z" fill="#0b9ca5"/>
<path d="M876.8,432.1 L885.0,432.1 L885.0,447.8 L876.8,447.8Z" fill="#0b9ca5"/>
</g>
<path d="M579.0,91.3 L585.2,98.8 L595.3,105.1 L607.8,116.4 L617.8,127.6 L624.1,137.7 L625.9,150.2 L629.1,160.3 L630.4,170.3 L636.7,180.3 L641.7,187.4 L647.9,189.1 L654.2,186.6 L657.5,177.8 L656.7,170.3 L660.0,164.8 L654.2,160.3 L653.0,152.7 L647.9,140.2 L642.9,127.6 L635.4,117.6 L625.4,110.1 L619.1,103.1 L610.3,101.3 L607.3,100.1 L607.8,92.5 L604.0,91.3Z" fill="#ffffff" stroke="#4a4a4a" stroke-width="0.6"/>
<path d="M243.0,91.3 L235.5,100.1 L231.7,110.1 L226.7,120.1 L220.5,129.7 L215.4,126.4 L212.9,120.1 L214.7,110.1 L214.2,104.6 L210.4,106.3 L205.4,111.3 L200.4,115.1 L197.9,112.6 L192.9,116.4 L185.3,121.4 L179.1,125.1 L175.3,126.4 L175.3,121.4 L172.8,120.6 L170.8,125.1 L169.8,131.4 L164.8,136.4 L165.3,138.9 L170.3,141.4 L176.6,144.0 L184.1,138.9 L187.8,141.4 L186.6,150.2 L185.3,159.0 L180.3,165.3 L179.8,171.6 L182.8,179.1 L189.1,180.3 L192.9,181.6 L190.3,187.9 L187.8,192.9 L189.1,196.6 L194.1,197.9 L197.9,200.9 L200.4,204.9 L205.4,207.4 L210.4,207.9 L215.4,205.4 L220.5,200.9 L226.7,197.4 L229.2,198.4 L230.0,202.9 L225.5,207.9 L221.7,209.2 L223.0,214.2 L226.7,215.5 L230.5,215.5 L230.0,220.5 L228.0,225.5 L227.5,231.0 L223.0,236.0 L220.0,238.0 L221.7,242.3 L226.7,243.5 L229.2,248.6 L232.5,253.6 L231.7,258.6 L228.0,263.6 L227.5,271.1 L229.2,277.4 L227.5,282.4 L229.2,287.4 L231.0,292.5 L230.0,297.5 L233.0,302.5 L236.8,306.3 L240.0,310.0 L244.3,307.5 L248.1,305.0 L247.5,300.0 L251.8,297.5 L256.1,298.7 L260.6,295.7 L264.4,292.5 L266.9,284.9 L266.1,278.7 L268.1,274.9 L270.6,278.7 L274.4,281.2 L278.2,279.9 L278.7,274.9 L278.2,271.1 L280.7,268.6 L290.7,267.4 L298.2,271.1 L305.8,275.7 L313.3,276.2 L320.8,273.6 L327.1,268.6 L333.3,266.1 L339.6,268.6 L345.9,272.4 L353.4,274.9 L359.7,277.4 L366.0,276.2 L372.2,273.6 L377.0,266.1 L384.5,268.6 L394.6,269.1 L400.8,277.4 L409.6,277.4 L417.1,282.4 L424.7,290.0 L439.7,291.2 L452.3,298.2 L464.8,301.2 L474.8,306.3 L482.4,315.0 L488.6,320.1 L502.4,322.6 L517.5,324.3 L532.5,324.3 L540.1,336.4 L546.3,346.4 L552.6,353.9 L545.1,343.9 L552.6,341.4 L562.6,347.7 L570.2,346.4 L567.0,344.0 L570.5,346.7 L573.1,349.3 L574.0,361.6 L579.3,363.3 L582.8,357.2 L586.3,360.7 L586.3,367.7 L591.6,371.2 L600.3,380.0 L607.3,382.6 L617.8,388.7 L626.6,394.0 L631.9,396.6 L635.4,396.3 L634.5,389.6 L631.0,382.6 L629.2,377.3 L635.4,379.1 L638.0,377.3 L637.1,387.8 L652.9,388.7 L654.7,376.5 L664.3,375.9 L664.8,388.7 L665.7,378.2 L693.2,378.2 L698.5,372.4 L705.5,377.3 L723.9,394.0 L735.3,401.9 L745.8,408.0 L760.0,414.1 L769.4,414.6 L789.4,418.4 L804.5,422.2 L810.5,424.2 L822.8,429.4 L828.0,433.8 L830.7,423.3 L832.4,424.2 L831.6,435.6 L842.1,439.1 L856.1,440.8 L857.0,434.7 L860.5,433.8 L861.3,425.9 L864.0,426.8 L865.7,440.8 L869.2,447.0 L873.6,446.1 L873.6,440.0 L876.2,438.2 L870.1,425.1 L867.5,419.8 L871.9,418.0 L874.5,420.7 L877.1,432.1 L878.0,442.6 L880.6,444.3 L881.5,432.9 L883.3,433.8 L885.0,446.1 L889.4,444.3 L890.3,440.0 L898.2,438.2 L899.9,431.2 L905.2,431.2 L907.8,434.7 L911.3,432.9 L911.3,423.3 L913.9,423.3 L914.8,431.2 L917.4,432.1 L919.2,425.1 L926.2,419.8 L929.7,414.5 L934.1,412.8 L935.0,402.3 L940.2,400.5 L949.0,399.6 L957.8,402.3 L966.5,400.5 L975.3,401.4 L972.9,398.3 L980.4,400.8 L990.5,403.3 L996.7,408.4 L1005.5,412.1 L1013.0,418.4 L1023.1,419.6 L1033.1,420.9 L1043.1,424.7 L1051.9,429.7 L1060.7,420.9 L1070.7,412.1 L1073.2,402.1 L1070.7,392.1 L1073.2,382.0 L1070.7,377.0 L1072.0,377.0 L1070.7,370.2 L1080.8,366.5 L1090.8,358.9 L1098.3,351.4 L1098.5,351 L1098.5,330 L1098.3,330.1 L1090.8,326.3 L1080.8,327.6 L1070.7,327.6 L1068.2,316.3 L1073.2,308.8 L1083.3,303.8 L1098.3,301.2 L1098.5,301 L1098.5,91 L243,91Z" fill="none" stroke="#4a4a4a" stroke-width="1" stroke-linejoin="round"/>
<path d="M130.1,244.0 L133.2,244.8 L135.7,249.8 L137.2,256.1 L137.2,263.6 L133.9,264.9 L131.4,268.6 L128.9,272.4 L126.4,270.6 L127.1,266.1 L125.6,264.9 L127.6,258.6 L128.9,251.1Z" fill="#e8e8e8" stroke="#4a4a4a" stroke-width="0.7"/>
<path d="M212.2,211.7 L216.7,207.9 L220.0,210.4 L220.5,216.7 L216.7,220.5 L212.4,220.5 L211.7,215.5Z" fill="#87bcc3" stroke="#4a4a4a" stroke-width="0.7"/>
<path d="M200.9,209.9 L203.4,208.9 L204.1,211.4 L201.9,212.4Z" fill="#0b9ca5" stroke="#4a4a4a" stroke-width="0.8"/>
<path d="M206.7,213.4 L209.4,212.9 L209.9,216.5 L207.2,216.7Z" fill="#0b9ca5" stroke="#4a4a4a" stroke-width="0.8"/>
<path d="M168.3,174.1 L170.8,173.1 L171.5,175.3 L169.3,176.8Z" fill="#0b9ca5" stroke="#4a4a4a" stroke-width="0.8"/>
<path d="M166.0,149.7 L168.3,144.7 L170.8,143.5 L169.8,147.7 L167.3,151.2Z" fill="#0b9ca5" stroke="#4a4a4a" stroke-width="0.8"/>
<path d="M209.9,264.1 L212.4,265.6 L212.9,267.6 L210.4,266.1Z" fill="#0b9ca5" stroke="#4a4a4a" stroke-width="0.8"/>
<path d="M216.2,261.1 L218.4,259.1 L219.5,262.1 L217.9,264.6 L216.2,263.6Z" fill="#0b9ca5" stroke="#4a4a4a" stroke-width="0.8"/>
<path d="M912.2,440.8 L920.9,436.5 L931.5,434.7 L935.8,438.2 L928.0,440.8 L915.7,445.2 L912.2,443.5Z" fill="#e8e8e8" stroke="#4a4a4a" stroke-width="0.5"/>
<path d="M1087.5,363.7 L1089.2,362.3 L1091.4,363.7 L1092.0,366.1 L1090.2,367.1 L1088.2,365.8Z" fill="#fff" stroke="#4a4a4a" stroke-width="0.8"/>
<path d="M294.5,138.9 L299.5,135.2 L303.2,130.2 L307.0,132.7 L312.0,138.9 L317.0,146.5 L317.8,150.2 L313.3,151.5 L308.3,149.0 L303.2,146.5 L297.0,145.2 L294.5,142.2Z" fill="#ffffff" stroke="#4a4a4a" stroke-width="0.6"/>
<path d="M534.5,386.6 L540,383 L545.4,380.5 L553.8,376.2 L564.6,375.2 L569.4,379.3 L573,390.2 L577,398 L582.7,405.9 L590.2,414.6 L597.8,420.9 L607.8,427.2 L617.8,432.2 L625.4,428.4 L629.1,430.9 L626.6,438.5 L617.8,439.7 L612.8,441.0 L615.3,449.8 L611.6,456.0 L607.8,453.5 L609.1,444.7 L606.5,441.0 L597.8,447.2 L590.2,443.5 L580.2,444.7 L579.0,449.8 L587.7,452.3 L590.2,458.5 L597.8,462.3 L599.0,467.3 L607.8,469.8 L622.9,472.3 L632.9,473.6 L634.1,477.3 L640.4,474.8 L647.9,476.1 L637.9,482.4 L650.5,486.1 L664.0,487.4 L672.1,490.8 L674.0,485.1 L677.8,488.9 L680.6,484.2 L678.8,481.3 L674.0,479.5 L675.0,473.8 L683.5,476.6 L693.9,479.5 L694.8,474.7 L699.5,475.7 L700.5,488.9 L703.3,489.8 L703.3,480.4 L706.2,480.4 L707.1,492.7 L712.8,496.5 L714.7,488.0 L717.5,489.8 L718.4,486.1 L720.3,491.7 L722.2,481.3 L727.0,475.7 L727.9,484.2 L728.8,475.7 L732.6,473.8 L740.0,474.7 L749.3,474.8 L753.1,473.6 L754.3,484.9 L758.1,485.4 L758.8,476.1 L761.3,482.4 L764.3,482.4 L771.9,474.8 L779.4,469.8 L789.4,463.6 L804.5,457.3 L814.5,458.5 L827.1,463.6 L843.4,469.8 L854.7,463.6 L869.7,459.8 L889.8,458.5 L904.8,459.8 L916.1,464.8 L1000,464 L1090,466 L1098.5,463 L1098.5,572 L470,572 L472.5,545.1 L492.6,542.5 L502.3,537.2 L512.8,535.5 L526.8,536.3 L530.3,531.1 L533.8,521.5 L544.3,518.8 L546.1,516.2 L551.3,517.1 L558.4,517.9 L562.7,521.5 L567.1,527.6 L569.8,536.3 L568.0,542.5 L570.6,546.9 L574.1,550.4 L575.0,541.6 L577.6,540.7 L581.1,545.1 L585.5,552.1 L589.9,557.4 L593.4,560.0 L602.2,558.3 L610.9,557.4 L616.2,559.1 L620.6,561.8 L623.2,555.6 L628.5,553.0 L635.5,548.6 L644.3,545.1 L654.8,542.5 L662.7,541.6 L663.5,536.3 L662.7,530.7 L654.8,531.1 L648.6,534.6 L640.7,539.0 L630.2,542.5 L623.2,545.1 L619.7,550.4 L612.7,549.5 L605.7,552.1 L596.9,551.2 L589.9,546.9 L582.9,539.9 L577.6,531.1 L572.4,522.3 L567.1,512.7 L561.9,503.0 L556.6,492.5 L557.5,483.8 L554.9,475.0 L550.1,472.3 L542.6,459.8 L537.6,449.8 L527.5,442.2 L520.0,437.2 L517.5,427.2 L522.5,422.2 L523.8,409.6 L525.0,397.1 L532.5,392.1Z" fill="#0b9ca5"/>
<g clip-path="url(#cvan)">
<path d="M517.5,449.8 L518.3,449.3 L520.3,448.0 L523.0,446.2 L525.5,444.4 L527.5,442.7 L528.4,441.6 L529.2,440.6 L529.8,439.6 L530.5,438.4 L531.3,437.2 L532.8,435.0 L534.4,432.4 L536.2,429.8 L538.1,427.1 L540.1,424.7 L542.3,422.4 L544.7,420.3 L547.3,418.2 L549.9,416.3 L552.6,414.6 L555.5,413.1 L558.5,411.7 L561.6,410.5 L564.7,409.4 L567.7,408.4 L570.3,407.6 L572.8,406.9 L575.3,406.3 L577.9,405.7 L580.7,405.1 L585.4,404.3 L591.2,403.5 L596.8,402.8 L601.1,402.3 L602.8,402.1 L664,398 L664,500 L690,505 L690,578 L590,578 L584,560 L578,548 L574,530 L566,510 L517,510Z" fill="#87bcc3"/>

<circle cx="668" cy="508" r="32.5" fill="#87bcc3"/><circle cx="668" cy="549" r="32" fill="#87bcc3"/><circle cx="748.0" cy="506.2" r="15.1" fill="#87bcc3"/><circle cx="788.2" cy="507.5" r="10.0" fill="#87bcc3"/><circle cx="820.8" cy="508.3" r="5.0" fill="#87bcc3"/><circle cx="725.5" cy="569.0" r="12.5" fill="#87bcc3"/><circle cx="753.1" cy="574.0" r="13.8" fill="#87bcc3"/>
<path d="M577.7,438.5 L576.9,438.7 L575.0,439.3 L572.4,440.1 L569.8,441.3 L567.7,442.7 L565.7,445.0 L563.8,447.8 L562.1,451.0 L560.8,454.2 L560.1,457.3 L559.9,459.9 L560.0,462.5 L560.5,465.1 L561.4,467.5 L562.6,469.8 L564.8,472.1 L567.6,474.2 L571.0,476.0 L574.4,477.9 L577.7,479.9 L581.2,482.3 L585.0,484.7 L588.7,487.2 L592.2,489.7 L595.3,492.4 L597.6,494.8 L599.6,497.4 L601.5,500.0 L603.3,502.6 L605.3,504.9 L607.2,506.9 L609.1,509.0 L611.0,510.8 L613.0,512.5 L615.3,513.7 L618.0,514.4 L621.1,514.6 L624.3,514.6 L627.3,514.6 L630.1,515.0 L632.0,515.7 L633.9,516.6 L635.6,517.5 L637.2,518.3 L638.9,518.7 L640.4,518.7 L641.8,518.5 L643.2,518.1 L644.6,517.6 L645.9,517.0 L647.4,516.2 L648.9,515.2 L650.3,514.1 L651.5,512.9 L652.2,511.7 L652.4,510.7 L652.4,509.7 L652.1,508.6 L651.7,507.6 L651.2,506.5 L650.2,505.1 L648.8,503.6 L647.1,502.1 L645.6,500.7 L644.2,499.4 L643.4,498.5 L642.7,497.6 L642.0,496.8 L641.3,495.9 L640.4,494.9 L638.7,493.1 L636.8,491.2 L634.7,489.1 L632.6,487.0 L630.4,484.9 L628.0,482.6 L625.6,480.2 L623.1,477.8 L620.5,475.6 L617.8,473.6 L614.9,472.1 L611.7,470.9 L608.5,469.8 L605.4,468.7 L602.8,467.3 L601.0,465.9 L599.5,464.2 L598.1,462.6 L596.7,461.0 L595.3,459.8 L594.2,459.2 L593.1,458.8 L592.0,458.4 L591.0,458.0 L590.2,457.3 L589.6,456.2 L589.2,454.9 L588.9,453.4 L588.4,452.1 L587.7,451.0 L586.4,450.3 L584.8,450.0 L583.1,449.7 L581.5,449.3 L580.2,448.5 L579.2,446.7 L578.5,444.1 L578.0,441.4 L577.8,439.4 L577.7,438.5Z" fill="#dde5e7"/>
<circle cx="612.8" cy="534.3" r="6.3" fill="#dde5e7"/><circle cx="631.1" cy="566.0" r="2.5" fill="#dde5e7"/>
<path d="M844.1,471.1 L849.6,469.3 L862.2,468.8 L874.2,468.6 L889.8,462.3 L904.8,461.0 L916.1,466.1 L924.9,468.6 L924.9,488.6 L916.1,487.4 L904.8,483.6 L889.8,484.9 L879.8,482.4 L874.2,479.9 L862.2,479.9 L854.7,482.4 L849.6,486.1 L844.6,479.9Z" fill="#e8e8e8"/>
<path d="M873.2,468 L873.9,468 L873.9,544 L873.2,544Z" fill="#4a4a4a" opacity="0.75"/>
<path d="M805.7,545.1 L819.5,543.9 L834.6,540.1 L849.6,532.6 L862.2,536.3 L873.5,542.6 L884.8,538.9 L899.8,533.8 L916.1,531.3 L922.4,530.8 L922.4,540.1 L916.1,540.1 L902.3,538.9 L889.8,541.4 L877.2,546.4 L864.7,550.1 L849.6,552.7 L834.6,551.4 L819.5,548.9Z" fill="#e8e8e8"/>
<path d="M472.5,545.1 L492.6,542.5 L502.3,537.2 L512.8,535.5 L526.8,536.3 L530.3,532.8 L544.3,540.7 L525.1,541.6 L512.8,543.4 L505.8,546.5 L497.0,544.2 L472.5,548.6Z" fill="#e8e8e8"/>
<path d="M1008,556 L1012,564 L1008,572 L1099,572 L1099,462 L1088,466 L1088,556Z" fill="#e8e8e8"/>
<path d="M492.4,547.6 L507.5,544.4 L527.5,540.9 L537.6,538.9 L547.6,542.6 L527.5,543.4 L512.5,546.4 L502.4,550.1 L492.4,551.4Z" fill="#87bcc3"/>
<path d="M575.2,548.9 L577.7,541.4 L584.0,546.4 L590.2,558.9 L595.3,571.5 L552.6,571.5 L557.6,563.9 L567.7,561.4 L577.7,561.4Z" fill="#87bcc3"/>
</g>
<path d="M553.9,448.5 L560.1,444.7 L570.2,442.2 L575.2,444.7 L573.9,452.3 L565.2,457.3 L558.9,454.8Z" fill="#ffffff" stroke="#4a4a4a" stroke-width="0.6"/>
<circle cx="569.7" cy="415.4" r="4.5" fill="#fff" stroke="#4a4a4a" stroke-width="0.6"/>
<path d="M534.5,386.6 L540,383 L545.4,380.5 L553.8,376.2 L564.6,375.2 L569.4,379.3 L573,390.2 L577,398 L582.7,405.9 L590.2,414.6 L597.8,420.9 L607.8,427.2 L617.8,432.2 L625.4,428.4 L629.1,430.9 L626.6,438.5 L617.8,439.7 L612.8,441.0 L615.3,449.8 L611.6,456.0 L607.8,453.5 L609.1,444.7 L606.5,441.0 L597.8,447.2 L590.2,443.5 L580.2,444.7 L579.0,449.8 L587.7,452.3 L590.2,458.5 L597.8,462.3 L599.0,467.3 L607.8,469.8 L622.9,472.3 L632.9,473.6 L634.1,477.3 L640.4,474.8 L647.9,476.1 L637.9,482.4 L650.5,486.1 L664.0,487.4 L672.1,490.8 L674.0,485.1 L677.8,488.9 L680.6,484.2 L678.8,481.3 L674.0,479.5 L675.0,473.8 L683.5,476.6 L693.9,479.5 L694.8,474.7 L699.5,475.7 L700.5,488.9 L703.3,489.8 L703.3,480.4 L706.2,480.4 L707.1,492.7 L712.8,496.5 L714.7,488.0 L717.5,489.8 L718.4,486.1 L720.3,491.7 L722.2,481.3 L727.0,475.7 L727.9,484.2 L728.8,475.7 L732.6,473.8 L740.0,474.7 L749.3,474.8 L753.1,473.6 L754.3,484.9 L758.1,485.4 L758.8,476.1 L761.3,482.4 L764.3,482.4 L771.9,474.8 L779.4,469.8 L789.4,463.6 L804.5,457.3 L814.5,458.5 L827.1,463.6 L843.4,469.8 L854.7,463.6 L869.7,459.8 L889.8,458.5 L904.8,459.8 L916.1,464.8 L1000,464 L1090,466 L1098.5,463 L1098.5,572 L470,572 L472.5,545.1 L492.6,542.5 L502.3,537.2 L512.8,535.5 L526.8,536.3 L530.3,531.1 L533.8,521.5 L544.3,518.8 L546.1,516.2 L551.3,517.1 L558.4,517.9 L562.7,521.5 L567.1,527.6 L569.8,536.3 L568.0,542.5 L570.6,546.9 L574.1,550.4 L575.0,541.6 L577.6,540.7 L581.1,545.1 L585.5,552.1 L589.9,557.4 L593.4,560.0 L602.2,558.3 L610.9,557.4 L616.2,559.1 L620.6,561.8 L623.2,555.6 L628.5,553.0 L635.5,548.6 L644.3,545.1 L654.8,542.5 L662.7,541.6 L663.5,536.3 L662.7,530.7 L654.8,531.1 L648.6,534.6 L640.7,539.0 L630.2,542.5 L623.2,545.1 L619.7,550.4 L612.7,549.5 L605.7,552.1 L596.9,551.2 L589.9,546.9 L582.9,539.9 L577.6,531.1 L572.4,522.3 L567.1,512.7 L561.9,503.0 L556.6,492.5 L557.5,483.8 L554.9,475.0 L550.1,472.3 L542.6,459.8 L537.6,449.8 L527.5,442.2 L520.0,437.2 L517.5,427.2 L522.5,422.2 L523.8,409.6 L525.0,397.1 L532.5,392.1Z" fill="none" stroke="#4a4a4a" stroke-width="1" stroke-linejoin="round"/>
</g>
<rect x="94" y="89.5" width="1006" height="484" fill="none" stroke="#b9b9b9" stroke-width="3"/>
<circle cx="769.4" cy="348.2" r="12.2" fill="#e66b4f"/>
<circle cx="876.7" cy="366.5" r="12.2" fill="#e66b4f"/>
<circle cx="712.7" cy="389.3" r="12.2" fill="#e66b4f"/>
<circle cx="627.9" cy="498.7" r="12.2" fill="#e66b4f"/>
</svg>
<svg width="1147" height="582" viewBox="0 0 1147 582" style="position:absolute;left:0;top:0">
  <!-- Title -->
  <text x="25.4" y="54" font-size="36.2" font-weight="bold" fill="#1f497d" textLength="1117.3" lengthAdjust="spacingAndGlyphs">Transit travel times from Ambleside – With B-Line &amp; Transit Priority</text>

  <!-- Map labels -->
  <text class="lbl" x="782" y="334.2" textLength="186" lengthAdjust="spacingAndGlyphs">Lions Gate Hospital</text>
  <text class="lbl" x="890.4" y="396.6" textLength="188.4" lengthAdjust="spacingAndGlyphs">Capilano University</text>
  <text class="lbl" x="724.5" y="419.6" textLength="141.5" lengthAdjust="spacingAndGlyphs">Lonsdale Quay</text>
  <text class="lbl" x="640.7" y="524.6" textLength="160.5" lengthAdjust="spacingAndGlyphs">Granville Station</text>

  <!-- Legend -->
  <rect x="918.5" y="445.5" width="170" height="113.7" fill="#ffffff" stroke="#bdbdbd" stroke-width="3"/>
  <text x="930" y="467.4" font-size="15.2" font-weight="bold" fill="#000" textLength="139.6" lengthAdjust="spacingAndGlyphs">Transit Travel Time</text>
  <rect x="930.2" y="468.7" width="139.3" height="1.3" fill="#000"/>
  <rect x="935.8" y="482.9" width="14.8" height="10.3" fill="#ffffff" stroke="#111" stroke-width="1"/>
  <rect x="935.3" y="501.5" width="15.8" height="10.2" fill="#d3e3e6"/>
  <rect x="935.3" y="520" width="15.8" height="10.6" fill="#87bcc3"/>
  <rect x="935.3" y="538.8" width="15.8" height="10.6" fill="#0b9ca5"/>
  <text class="leg" x="957.4" y="493.2" textLength="111.8" lengthAdjust="spacingAndGlyphs">Within 15 minutes</text>
  <text class="leg" x="957.4" y="510.9" textLength="111.8" lengthAdjust="spacingAndGlyphs">Within 30 minutes</text>
  <text class="leg" x="957.4" y="528.9" textLength="111.8" lengthAdjust="spacingAndGlyphs">Within 45 minutes</text>
  <text class="leg" x="957.4" y="546.9" textLength="111.8" lengthAdjust="spacingAndGlyphs">Within 60 minutes</text>

  <!-- Table -->
  <g>
    <rect x="33" y="322.5" width="461" height="250.5" fill="#000" opacity="0.07"/>
    <rect x="31.25" y="320.7" width="460.2" height="249.6" fill="#ffffff" stroke="#bcbcbc" stroke-width="2.4"/>
    <rect x="234.5" y="321.9" width="255.9" height="39.1" fill="#00335f"/>
    <rect x="234.5" y="362.7" width="127.2" height="67.7" fill="#00335f"/>
    <rect x="363" y="362.7" width="127.4" height="67.7" fill="#e36c0a"/>
    <!-- rows -->
    <rect x="32.5" y="432.2" width="200.7" height="33.2" fill="#00335f"/>
    <rect x="234.5" y="432.2" width="127.2" height="33.2" fill="#dde5e7"/>
    <rect x="363" y="432.2" width="127.4" height="33.2" fill="#dde5e7"/>
    <rect x="32.5" y="466.9" width="200.7" height="33.1" fill="#00335f"/>
    <rect x="234.5" y="466.9" width="127.2" height="33.1" fill="#87bcc3"/>
    <rect x="363" y="466.9" width="127.4" height="33.1" fill="#dde5e7"/>
    <rect x="32.5" y="501.5" width="200.7" height="33.1" fill="#00335f"/>
    <rect x="234.5" y="501.5" width="127.2" height="33.1" fill="#87bcc3"/>
    <rect x="363" y="501.5" width="127.4" height="33.1" fill="#dde5e7"/>
    <rect x="32.5" y="536.1" width="200.7" height="32.9" fill="#00335f"/>
    <rect x="234.5" y="536.1" width="127.2" height="32.9" fill="#0b9ca5"/>
    <rect x="363" y="536.1" width="127.4" height="32.9" fill="#87bcc3"/>

    <text class="th1" x="243.4" y="343.9" textLength="232.4" lengthAdjust="spacingAndGlyphs">Travel Time from Ambleside</text>
    <text class="th2" x="243.6" y="382.3" textLength="92" lengthAdjust="spacingAndGlyphs">Before B-Line</text>
    <text class="th2" x="243.6" y="402" textLength="77" lengthAdjust="spacingAndGlyphs">and Transit</text>
    <text class="th2" x="243.6" y="421.6" textLength="51" lengthAdjust="spacingAndGlyphs">Priority</text>
    <text class="th2" x="371.6" y="382.3" textLength="82" lengthAdjust="spacingAndGlyphs">After B-Line</text>
    <text class="th2" x="371.6" y="402" textLength="77" lengthAdjust="spacingAndGlyphs">and Transit</text>
    <text class="th2" x="371.6" y="421.6" textLength="51" lengthAdjust="spacingAndGlyphs">Priority</text>

    <text class="rowh" x="40.2" y="454.8" textLength="179.4" lengthAdjust="spacingAndGlyphs">Downtown Vancouver</text>
    <text class="rowh" x="40.2" y="489.4" textLength="155.6" lengthAdjust="spacingAndGlyphs">Lions Gate Hospital</text>
    <text class="rowh" x="40.2" y="523.9" textLength="118" lengthAdjust="spacingAndGlyphs">Lonsdale Quay</text>
    <text class="rowh" x="40.2" y="558.4" textLength="155.6" lengthAdjust="spacingAndGlyphs">Capilano University</text>

    <text class="cell" x="243.4" y="454.8" textLength="65" lengthAdjust="spacingAndGlyphs"><tspan dy="-3.2">~</tspan><tspan dy="3.2">25 min</tspan></text>
    <text class="cell" x="371.4" y="454.8" textLength="65" lengthAdjust="spacingAndGlyphs"><tspan dy="-3.2">~</tspan><tspan dy="3.2">20 min</tspan></text>
    <text class="cell" x="243.4" y="489.4" textLength="65" lengthAdjust="spacingAndGlyphs"><tspan dy="-3.2">~</tspan><tspan dy="3.2">35 min</tspan></text>
    <text class="cell" x="371.4" y="489.4" textLength="65" lengthAdjust="spacingAndGlyphs"><tspan dy="-3.2">~</tspan><tspan dy="3.2">30 min</tspan></text>
    <text class="cell" x="243.4" y="523.9" textLength="65" lengthAdjust="spacingAndGlyphs"><tspan dy="-3.2">~</tspan><tspan dy="3.2">40 min</tspan></text>
    <text class="cell" x="371.4" y="523.9" textLength="65" lengthAdjust="spacingAndGlyphs"><tspan dy="-3.2">~</tspan><tspan dy="3.2">25 min</tspan></text>
    <text class="cell" x="243.4" y="558.4" textLength="65" lengthAdjust="spacingAndGlyphs"><tspan dy="-3.2">~</tspan><tspan dy="3.2">60 min</tspan></text>
    <text class="cell" x="371.4" y="558.4" textLength="65" lengthAdjust="spacingAndGlyphs"><tspan dy="-3.2">~</tspan><tspan dy="3.2">45 min</tspan></text>
  </g>

  <!-- page numbers -->
  <text x="894.5" y="582" font-size="7.5" fill="#8a8a8a">21</text>
  <text x="1141.5" y="582" font-size="7.5" fill="#8a8a8a">2</text>
</svg>
</body>
</html>
